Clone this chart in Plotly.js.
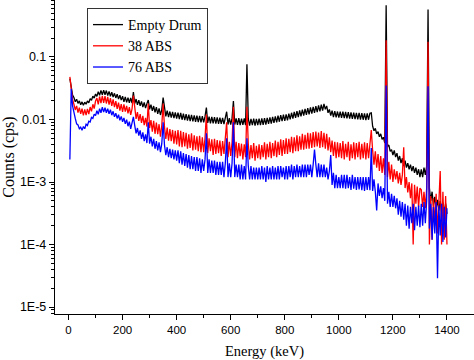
<!DOCTYPE html>
<html><head><meta charset="utf-8">
<script src="https://cdn.plot.ly/plotly-3.0.1.min.js"></script>
<style>html,body{margin:0;padding:0;background:#fff}#chart{width:474px;height:360px}</style>
</head><body><div id="chart"></div>
<script>
// Spectrum channels: first point at 5 keV, one value every 5 keV up to 1400 keV
const energyStart = 5;
const energyStep = 5;
const seriesNames = ['Empty Drum', '38 ABS', '76 ABS'];

// Counts (cps), Empty Drum
const emptyDrum = [
.045,.031,.0245,.0225,.0192,.0211,.0181,.0198,.0172,.0191,.0169,.0189,.0175,.0198,.0185,.0215,.0203,.0236,.022,.0255,
.0234,.0278,.0243,.029,.0249,.0294,.0248,.029,.0241,.0281,.0235,.0272,.0228,.0262,.0221,.0254,.0212,.0245,.0204,.0235,
.0191,.023,.0188,.0224,.0185,.0222,.0183,.0275,.018,.0212,.0172,.0204,.0165,.0195,.0158,.0187,.0152,.0179,.0205,.0145,
.0173,.0137,.0164,.013,.0157,.0123,.015,.0118,.0144,.0224,.0141,.0112,.0138,.0109,.0134,.0107,.0132,.0105,.013,.0103,
.0129,.0101,.0127,.0099,.0124,.0098,.0122,.0096,.012,.0094,.0118,.0093,.0116,.0092,.0115,.0091,.0114,.009,.0113,.009,
.0112,.0155,.0088,.0111,.0087,.011,.0087,.0109,.0086,.0108,.0085,.0107,.0085,.0106,.0084,.0106,.0133,.0083,.0105,.0083,
.0105,.0197,.0083,.0104,.0082,.0105,.0081,.0103,.0082,.0104,.0081,.076,.0103,.008,.0102,.0081,.0103,.008,.0102,.0081,
.0103,.0081,.0104,.0082,.0105,.0083,.0106,.0085,.0108,.0086,.011,.0088,.0112,.009,.0115,.0092,.0117,.0094,.012,.0095,
.0121,.0097,.0124,.01,.0128,.0103,.0132,.0106,.0136,.0109,.014,.0112,.0144,.0115,.0148,.0118,.0152,.0121,.0156,.0124,
.0159,.0128,.0163,.0131,.0168,.0135,.0172,.0138,.0177,.0145,.0165,.0128,.0145,.0115,.0138,.0109,.0136,.0108,.0134,.0107,
.0134,.0106,.0133,.0105,.0132,.0104,.0131,.0103,.013,.0102,.0129,.0101,.0128,.01,.0127,.0099,.0126,.0099,.0125,.0098,
.0125,.0099,.0126,.0128,.0078,.0066,.0072,.0059,.0064,.0053,.0059,.0048,.0052,.0042,.67,.0037,.0039,.0031,.0033,.0027,
.0032,.0025,.0029,.0022,.0026,.002,.0024,.0018,.0022,.0017,.002,.0016,.0019,.0015,.0018,.0014,.0017,.0013,.0016,.0012,
.0016,.0012,.0017,.0013,.0018,.575,.0008,.0005,.0007,.00042,.00058,.00038,.00052,.00035,.0005,.00034,.00047,.00032,.00045,.00031
];

// Counts (cps), 38 ABS
const abs38 = [
.048,.029,.021,.0175,.0142,.0165,.0129,.0155,.0123,.0149,.0116,.0145,.0117,.0148,.0122,.0158,.0135,.0175,.0149,.0197,
.022,.0175,.0233,.0183,.0239,.0185,.0237,.018,.0229,.0173,.0219,.0165,.0209,.0157,.0197,.0148,.0186,.0139,.0176,.0132,
.0175,.0133,.0165,.0125,.0158,.0118,.0148,.024,.0141,.0102,.0131,.0095,.0122,.0088,.0114,.0081,.0106,.0077,.018,.0073,
.0098,.0064,.0095,.0059,.0089,.0058,.0084,.0053,.008,.018,.0076,.0049,.0074,.0046,.007,.0045,.0068,.0041,.0066,.004,
.0068,.0037,.0066,.0036,.0063,.0037,.0061,.0034,.0058,.0035,.006,.0032,.0056,.0033,.0054,.0031,.0055,.003,.0052,.003,
.0051,.012,.0029,.005,.0031,.0048,.0027,.0049,.0028,.0047,.0029,.0046,.0026,.0045,.0028,.0047,.009,.0025,.0044,.0026,
.0043,.016,.0025,.0044,.0024,.0042,.0026,.0041,.0023,.004,.0025,.016,.0041,.0023,.0039,.0024,.0042,.0022,.0038,.0024,
.004,.0023,.0039,.0025,.0043,.0023,.0041,.0025,.0044,.0024,.0042,.0026,.0046,.0025,.0044,.0027,.0048,.0026,.0047,.0028,
.005,.0028,.0049,.003,.0053,.0029,.0052,.0031,.0056,.0031,.0054,.0033,.0059,.0033,.0057,.0034,.0061,.0034,.006,.0035,
.0063,.0036,.0064,.0037,.0062,.0035,.0065,.0036,.0061,.0034,.0059,.0032,.0052,.003,.0046,.0026,.0044,.0024,.0043,.0025,
.0042,.0024,.0045,.0023,.0041,.0025,.0044,.0022,.004,.0024,.0043,.0023,.0042,.0025,.0044,.0023,.0041,.0024,.0043,.0023,
.0042,.0024,.0041,.0068,.0032,.0019,.0031,.0017,.0028,.0015,.0026,.0014,.0024,.0013,.185,.0012,.0021,.0011,.0019,.001,
.0016,.0011,.0015,.00095,.0014,.0009,.0013,.0036,.0008,.0012,.00068,.001,.00055,.00095,.0001,.0009,.00045,.00085,.0004,.0008,
.00075,.0004,.0007,.00038,.0008,.175,.0001,.0006,.00012,.00055,.0002,.00065,.00015,.0005,.0015,.0001,.0007,.00012,.0006,.0001
];

// Counts (cps), 76 ABS
const abs76 = [
.0023,.031,.0165,.0122,.0104,.0085,.0082,.0071,.0075,.0067,.0077,.0071,.0084,.008,.0094,.0091,.0108,.0104,.0122,.0115,
.0138,.0121,.0149,.0128,.0157,.0131,.0154,.0128,.0149,.0123,.0143,.0117,.0135,.011,.0126,.0104,.0119,.0097,.0112,.0092,
.0106,.0085,.0099,.0078,.0092,.0071,.0086,.011,.008,.006,.0073,.0055,.0067,.0049,.0062,.0045,.0058,.0042,.009,.0041,
.0053,.0037,.0049,.0034,.0045,.0032,.0043,.003,.0041,.009,.0039,.0027,.0036,.0025,.0034,.0024,.0033,.0023,.0032,.0022,
.0032,.002,.0031,.0019,.0029,.0018,.0028,.0017,.0027,.0016,.0026,.0016,.0025,.0015,.0025,.0015,.0024,.0014,.0023,.0015,
.0023,.006,.0014,.0023,.0014,.0022,.0014,.0022,.0013,.0021,.0013,.0021,.0013,.0021,.0012,.002,.005,.0012,.002,.0012,
.002,.009,.0012,.0019,.0012,.0019,.0011,.0019,.0011,.0018,.0011,.005,.0018,.0011,.0018,.0011,.0017,.0011,.0017,.0011,
.0017,.0011,.0018,.0011,.0017,.001,.0018,.0011,.0017,.0011,.0018,.0011,.0017,.0011,.0018,.0011,.0018,.0012,.0017,.0011,
.0018,.0011,.0018,.0012,.0019,.0011,.0018,.0012,.0019,.0012,.0018,.0012,.0019,.0012,.0019,.0012,.0019,.0013,.0019,.0012,
.0019,.0033,.0019,.0012,.002,.0012,.0019,.0012,.0019,.0012,.0017,.0011,.0015,.0027,.0009,.0014,.0008,.0013,.0008,.0012,
.0008,.0013,.0008,.0013,.00078,.0013,.0008,.0012,.00075,.0013,.00078,.0012,.00075,.0012,.00076,.0012,.00074,.0012,.00072,.0012,
.00075,.0012,.00074,.0035,.00072,.0011,.0007,.00035,.00095,.0006,.00085,.00055,.0008,.0005,.035,.00045,.0007,.0004,.00065,.0004,
.0006,.00038,.00055,.0003,.0005,.00028,.00048,.00025,.00045,.0002,.00042,.00018,.0004,.00022,.00045,.00017,.0004,.0002,.00042,.00019,
.00045,.0002,.00048,.00022,.0005,.034,.00018,.00045,.00012,.0004,.00015,.00048,.000029,.00042,.00014,.00045,.00011,.0004,.00013,.00038
];

const xTickVals = [0, 200, 400, 600, 800, 1000, 1200, 1400];
const xMinorVals = [100, 300, 500, 700, 900, 1100, 1300];
const yTickVals = [1e-5, 1e-4, 1e-3, 0.01, 0.1];
const yTickText = ['1E-5', '1E-4', '1E-3', '0.01', '0.1'];
const yMinorVals = [];
for (let d = -6; d <= -1; d++) for (let k = 2; k <= 9; k++) yMinorVals.push(k * Math.pow(10, d));

const colors = ['#000000', '#ff0000', '#0000ff'];
const seriesData = [emptyDrum, abs38, abs76];

const traces = seriesData.map((vals, i) => ({
  type: 'scatter', mode: 'lines',
  x0: energyStart, dx: energyStep, y: vals,
  name: seriesNames[i],
  line: {color: colors[i], width: 1.3}
}));

const serif = 'Liberation Serif, Times New Roman, serif';
const sans = 'Liberation Sans, Arial, sans-serif';

const layout = {
  width: 474, height: 360,
  margin: {l: 55, r: 0, t: 0, b: 46},
  paper_bgcolor: '#ffffff', plot_bgcolor: '#ffffff',
  showlegend: true,
  legend: {
    x: 0.0764, y: 0.9745, xanchor: 'left', yanchor: 'top',
    bgcolor: '#ffffff', bordercolor: '#333333', borderwidth: 1,
    font: {family: serif, size: 14, color: '#000'}
  },
  xaxis: {
    range: [-50, 1500], tickmode: 'array', tickvals: xTickVals,
    ticks: 'outside', ticklen: 5, tickwidth: 1, tickcolor: '#000',
    showline: true, linecolor: '#000', linewidth: 1.2,
    showgrid: false, zeroline: false,
    tickfont: {family: sans, size: 11.5, color: '#000'},
    minor: {tickmode: 'array', tickvals: xMinorVals, ticks: 'outside', ticklen: 3, tickwidth: 1, tickcolor: '#000', showgrid: false},
    title: {text: 'Energy (keV)', font: {family: serif, size: 14.5, color: '#000'}, standoff: 10}
  },
  yaxis: {
    type: 'log', range: [-5.11, -0.09], tickmode: 'array',
    tickvals: yTickVals, ticktext: yTickText,
    ticks: 'outside', ticklen: 5, tickwidth: 1, tickcolor: '#000',
    showline: true, linecolor: '#000', linewidth: 1.2,
    showgrid: false, zeroline: false,
    tickfont: {family: sans, size: 12.5, color: '#000'},
    minor: {tickmode: 'array', tickvals: yMinorVals, ticks: 'outside', ticklen: 3, tickwidth: 1, tickcolor: '#000', showgrid: false},
    title: {text: 'Counts (cps)', font: {family: serif, size: 16, color: '#000'}, standoff: 6}
  }
};

Plotly.newPlot('chart', traces, layout, {staticPlot: true, displayModeBar: false});
</script>
</body></html>
